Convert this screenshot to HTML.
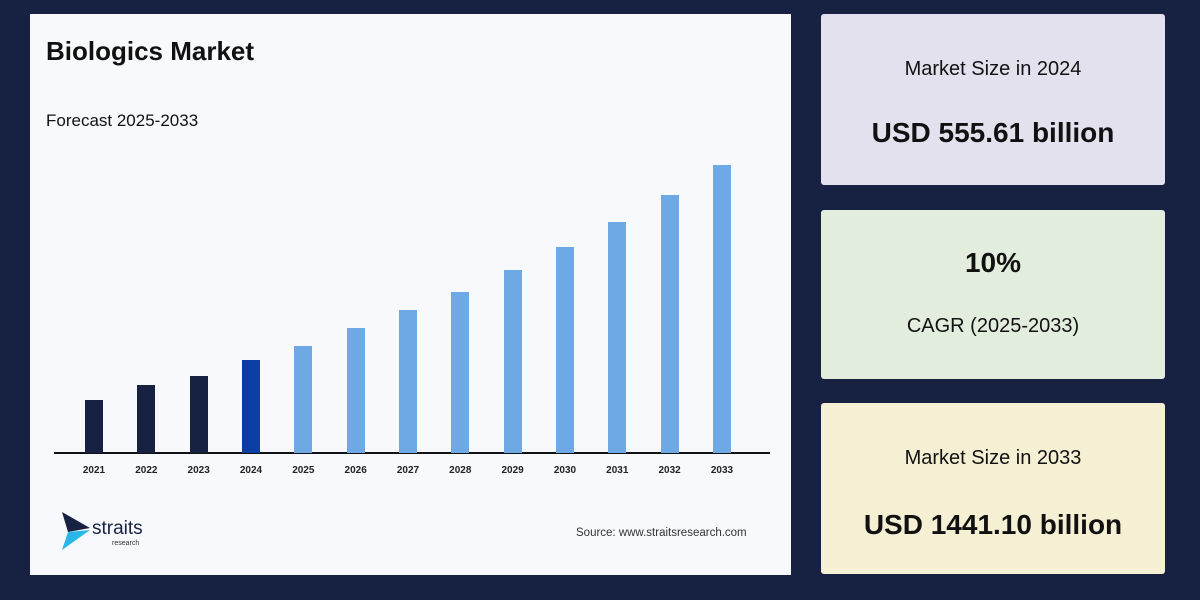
<!DOCTYPE html>
<html><head><style>
body{margin:0;width:1200px;height:600px;background:#172142;font-family:"Liberation Sans",sans-serif;position:relative;overflow:hidden}
.p{position:absolute;left:30px;top:14px;width:761px;height:561px;background:#f8f9fd}
.c{position:absolute;left:821px;width:344px;border-radius:3px;text-align:center;color:#111}
.b{position:absolute;width:18px;bottom:147px}
.y{position:absolute;top:465px;font-size:10px;font-weight:bold;color:#222;width:40px;text-align:center}
</style></head><body>
<div class="p"></div>
<div style="position:absolute;left:46px;top:36px;font-size:26px;font-weight:bold;color:#111">Biologics Market</div>
<div style="position:absolute;left:46px;top:111px;font-size:17px;color:#111">Forecast 2025-2033</div>
<div style="position:absolute;left:54px;top:452px;width:716px;height:2px;background:#111"></div>
<div id="bars"></div>
<script>
var tops=[400,385,376,360,346,328,310,292,270,247,222,195,165];
var h='';
for(var i=0;i<13;i++){var cx=94+i*52.33;var col=i<3?'#172142':(i==3?'#0b3fa5':'#6ea9e6');
h+='<div class="b" style="left:'+(cx-9)+'px;top:'+tops[i]+'px;height:'+(453-tops[i])+'px;background:'+col+'"></div>';
h+='<div class="y" style="left:'+(cx-20)+'px">'+(2021+i)+'</div>';}
document.getElementById('bars').innerHTML=h;
</script>
<svg style="position:absolute;left:60px;top:512px" width="32" height="38"><polygon points="2,0 30,16 8,20" fill="#172142"/><polygon points="8,20 30,18 2,38" fill="#29b6e8"/></svg>
<div style="position:absolute;left:92px;top:518px;font-size:19px;color:#172142">straits</div>
<div style="position:absolute;left:112px;top:540px;font-size:7px;color:#333">research</div>
<div style="position:absolute;left:576px;top:527px;font-size:11.5px;color:#333">Source: www.straitsresearch.com</div>
<div class="c" style="top:14px;height:171px;background:#e4e1ef"><div style="margin-top:44px;font-size:20px">Market Size in 2024</div><div style="margin-top:36px;font-size:28px;font-weight:bold">USD 555.61 billion</div></div>
<div class="c" style="top:210px;height:169px;background:#e3edde"><div style="margin-top:37px;font-size:28px;font-weight:bold">10%</div><div style="margin-top:36px;font-size:20px">CAGR (2025-2033)</div></div>
<div class="c" style="top:403px;height:171px;background:#f5efd4"><div style="margin-top:44px;font-size:20px">Market Size in 2033</div><div style="margin-top:39px;font-size:28px;font-weight:bold">USD 1441.10 billion</div></div>
</body></html>
